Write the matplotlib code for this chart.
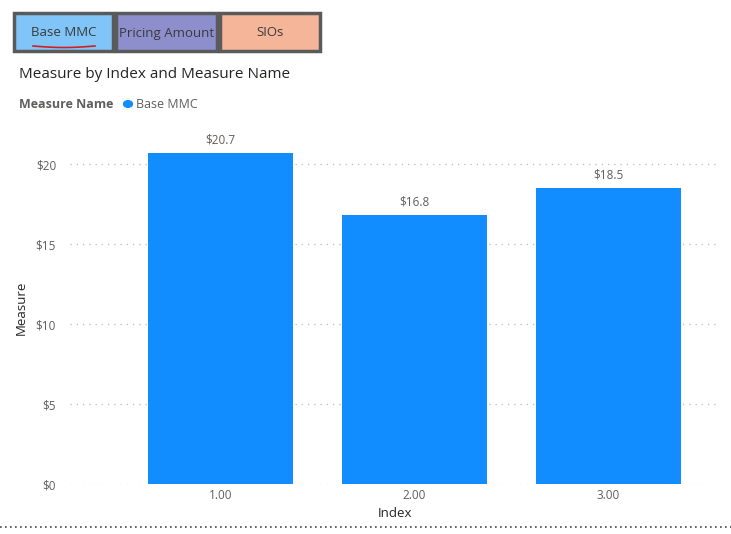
import matplotlib
matplotlib.use("Agg")
import matplotlib.pyplot as plt
from matplotlib.patches import Rectangle, Circle
import numpy as np

categories = ["1.00", "2.00", "3.00"]
values = [20.7, 16.8, 18.5]
yticks = [0, 5, 10, 15, 20]
buttons = ["Base MMC", "Pricing Amount", "SIOs"]
button_colors = ["#80C4F8", "#8C8FCC", "#F4B599"]

W, H = 731, 534
fig = plt.figure(figsize=(W/100, H/100), dpi=100)
plt.rcParams['font.family'] = ['Open Sans', 'DejaVu Sans']
gray = "#605E5C"

ax = fig.add_axes([70/W, 1-484/H, 650/W, 352/H])
x = np.arange(1, len(categories)+1)
ax.bar(x, values, width=0.75, color="#118DFF", zorder=3)
for xi, v in zip(x, values):
    ax.text(xi, v + 0.4, f"${v:.1f}", ha="center", va="bottom", fontsize=8.5, color=gray)
ax.set_xlim(1-151/194, 3+112/194)
ax.set_ylim(0, 22)
ax.set_xticks(x)
ax.set_xticklabels(categories)
ax.set_yticks(yticks)
ax.set_yticklabels([f"${t}" for t in yticks])
ax.tick_params(length=0, labelsize=8.5, colors=gray)
ax.tick_params(axis='y', pad=10)
for s in ax.spines.values():
    s.set_visible(False)
ax.grid(axis='y', linestyle=(0, (1, 4)), color="#BBBBBB", linewidth=0.9, zorder=0)
ax.set_xlabel("Index", fontsize=9.5, color="#252423", labelpad=4)
ax.set_ylabel("Measure", fontsize=9.5, color="#252423", labelpad=6)

# buttons
bx = [(14, 113), (116, 217), (220, 320)]
for (x0, x1), lab, c in zip(bx, buttons, button_colors):
    fig.patches.append(Rectangle((x0/W, 1-51/H), (x1-x0)/W, 38/H, transform=fig.transFigure,
                                 facecolor=c, edgecolor="#5A5A5A", linewidth=2.5))
    fig.text((x0+x1)/2/W, 1-33/H, lab, ha="center", va="center", fontsize=9.5, color="#3A3A3A")
# red underline
xs = np.linspace(33, 95, 30)
ys = 46 + 1.5*np.sin((xs-33)/62*np.pi)
fig.add_artist(plt.Line2D(xs/W, 1-ys/H, color="#D02020", linewidth=1.2))

fig.text(19/W, 1-74/H, "Measure by Index and Measure Name", fontsize=11, color="#252423", va="center")
fig.text(19/W, 1-104/H, "Measure Name", fontsize=9, fontweight="bold", color=gray, va="center")
fig.patches.append(Circle((128/W, 1-104/H), 4.5/W, transform=fig.transFigure, color="#118DFF"))
fig.text(136/W, 1-104/H, "Base MMC", fontsize=9, color=gray, va="center")

fig.add_artist(plt.Line2D([0, 1], [1-527/H]*2, color="#444444", linestyle=(0, (1, 2)), linewidth=1.2))

fig.savefig("out.png", dpi=100)
